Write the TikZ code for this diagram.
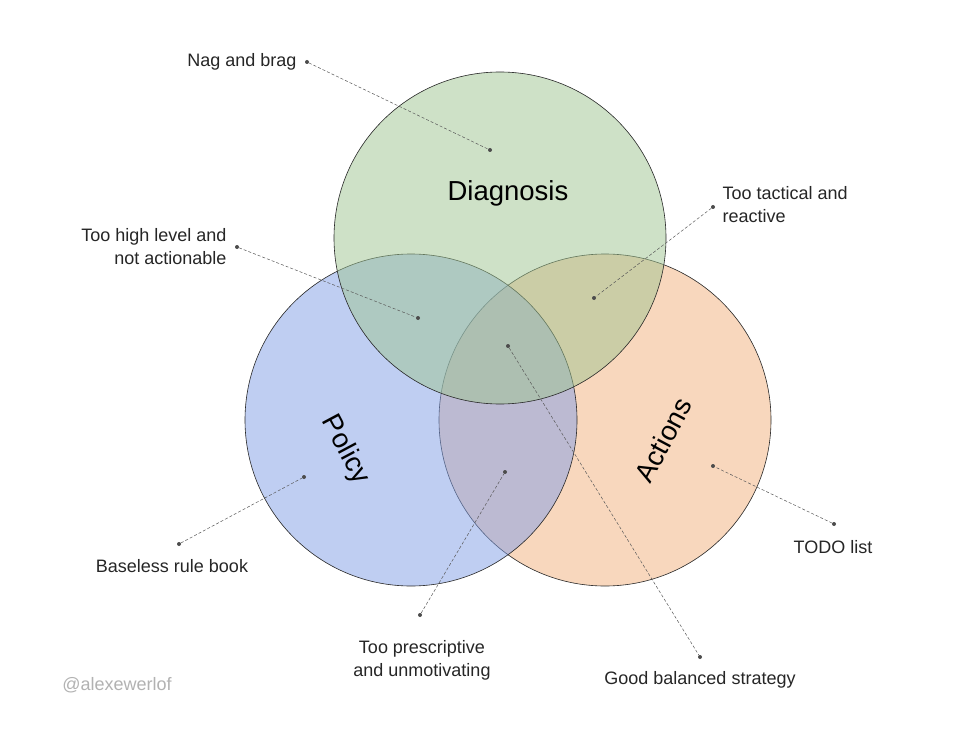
\documentclass[tikz,border=0pt]{standalone}
\usepackage{fontspec}
\setmainfont{Liberation Sans}
\begin{document}
\begin{tikzpicture}[x=1pt,y=-1pt,
  circ/.style={draw=black!85,line width=0.6pt,fill opacity=0.5},
  lbl/.style={font=\fontsize{18}{23}\selectfont,text=black!85},
  big/.style={font=\fontsize{27.5}{32}\selectfont},
  dot/.style={circle,fill=black!70,inner sep=0pt,minimum size=4pt},
  lead/.style={dashed,dash pattern=on 3pt off 2pt,black!65,line width=0.5pt}]
\definecolor{cg}{RGB}{159,197,145}
\definecolor{cb}{RGB}{129,159,231}
\definecolor{co}{RGB}{243,177,125}
\fill[white] (0,0) rectangle (977,738);
\useasboundingbox (0,0) rectangle (977,738);
\filldraw[circ,fill=co] (605,420) circle (166);
\filldraw[circ,fill=cb] (411,420) circle (166);
\filldraw[circ,fill=cg] (500,238) circle (166);
\node[big] (diag) at (508,193) {Diagnosis};
\node[big,rotate=-62] (pol) at (345,450) {Policy};
\node[big,rotate=62] (act) at (663,440) {Actions};
% dots
\node[dot] (d1a) at (307,62) {}; \node[dot] (d1b) at (490,150) {};
\node[dot] (d2a) at (237,247) {}; \node[dot] (d2b) at (418,318) {};
\node[dot] (d3a) at (713,207) {}; \node[dot] (d3b) at (594,298) {};
\node[dot] (d4a) at (508,346) {}; \node[dot] (d4b) at (700,657) {};
\node[dot] (d5a) at (179,544) {}; \node[dot] (d5b) at (304,477) {};
\node[dot] (d6a) at (420,615) {}; \node[dot] (d6b) at (505,472) {};
\node[dot] (d7a) at (834,524) {}; \node[dot] (d7b) at (713,466) {};
\draw[lead] (d1a)--(d1b); \draw[lead] (d2a)--(d2b); \draw[lead] (d3a)--(d3b);
\draw[lead] (d4a)--(d4b); \draw[lead] (d5a)--(d5b); \draw[lead] (d6a)--(d6b);
\draw[lead] (d7a)--(d7b);
\node[lbl,anchor=east] (t1) at (300,62) {Nag and brag};
\node[lbl,anchor=east,align=right] (t2) at (230,247) {Too high level and\\not actionable};
\node[lbl,anchor=west,align=left] (t3) at (719,205) {Too tactical and\\reactive};
\node[lbl] (t4) at (700,680) {Good balanced strategy};
\node[lbl] (t5) at (172,566) {Baseless rule book};
\node[lbl,align=center] (t6) at (422,660) {Too prescriptive\\and unmotivating};
\node[lbl] (t7) at (833,547) {TODO list};
\node[lbl,text=black!30] (t8) at (117,685) {@alexewerlof};
\end{tikzpicture}
\end{document}
